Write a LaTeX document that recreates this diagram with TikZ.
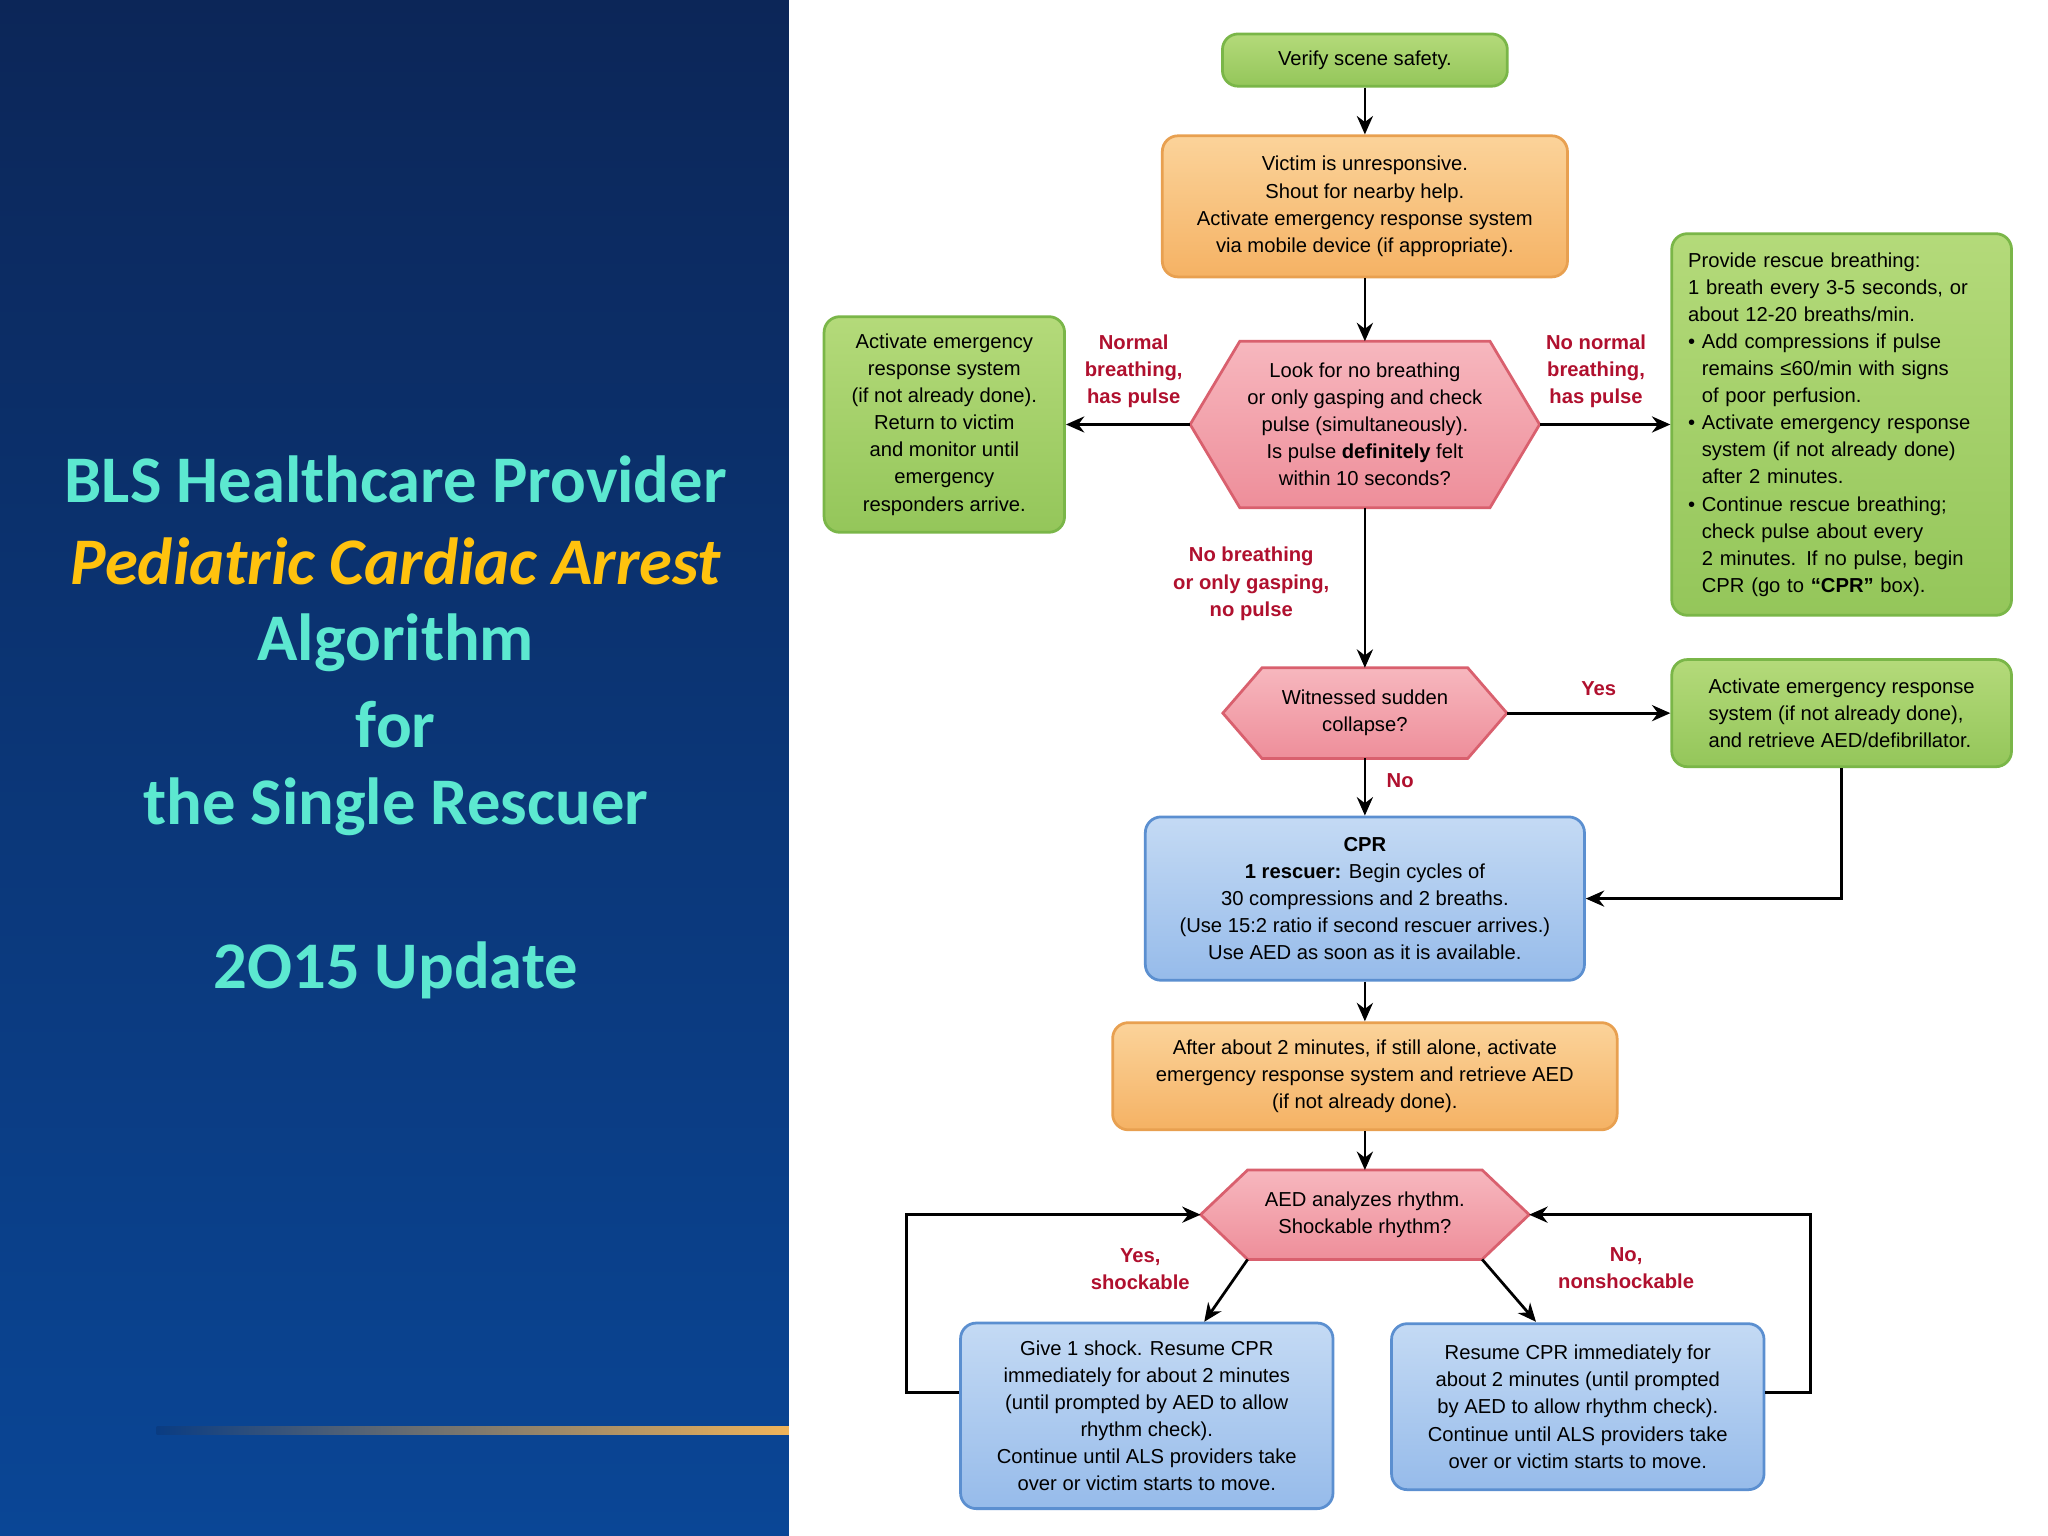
\documentclass[tikz,border=0pt]{standalone}
\usepackage{fontspec}
\setmainfont{Liberation Sans}
\newfontfamily\titlefont{Carlito}
\usetikzlibrary{arrows.meta,calc}
\definecolor{gfill}{HTML}{B4DA7A}\definecolor{gfill2}{HTML}{94C65A}\definecolor{gdraw}{HTML}{7AB648}
\definecolor{ofill}{HTML}{FBD39A}\definecolor{ofill2}{HTML}{F5B264}\definecolor{odraw}{HTML}{E8A050}
\definecolor{rfill}{HTML}{F7B7BE}\definecolor{rfill2}{HTML}{EE8E9A}\definecolor{rdraw}{HTML}{D9606E}
\definecolor{bfill}{HTML}{C4DAF4}\definecolor{bfill2}{HTML}{96BBEA}\definecolor{bdraw}{HTML}{5B8FD0}
\definecolor{lab}{HTML}{B0102E}\definecolor{ttl}{HTML}{5CE8D0}\definecolor{ttly}{HTML}{FFC20E}
\tikzset{
 box/.style={rounded corners=0.12cm,line width=0.6pt,font=\fontsize{4.4}{5.9}\selectfont,align=center,inner sep=1pt},
 gbox/.style={box,draw=gdraw,top color=gfill,bottom color=gfill2},
 obox/.style={box,draw=odraw,top color=ofill,bottom color=ofill2},
 bbox/.style={box,draw=bdraw,top color=bfill,bottom color=bfill2},
 hexfill/.style={draw=rdraw,line width=0.6pt,top color=rfill,bottom color=rfill2},
 htext/.style={font=\fontsize{4.4}{5.9}\selectfont,align=center,inner sep=0pt},
 lbl/.style={font=\fontsize{4.4}{5.9}\selectfont\bfseries,text=lab,align=center},
 arr/.style={-{Stealth[length=4pt,width=3.5pt]},line width=0.6pt},
 ttlt/.style={font=\titlefont\fontsize{14.5}{17}\selectfont\bfseries,text=ttl}
}
\newcommand{\hexdraw}[2]{% node, inset
 \draw[hexfill] (#1.west) -- ($(#1.north west)+(#2,0)$) -- ($(#1.north east)-(#2,0)$) -- (#1.east) -- ($(#1.south east)-(#2,0)$) -- ($(#1.south west)+(#2,0)$) -- cycle;}
\begin{document}
\begin{tikzpicture}[x=0.01cm,y=-0.01cm]
\useasboundingbox (0,0) rectangle (1568,1176);
\fill[white] (0,0) rectangle (1568,1176);
\shade[top color={rgb,255:red,12;green,38;blue,88}, bottom color={rgb,255:red,10;green,70;blue,150}] (0,0) rectangle (604,1176);
\shade[left color={rgb,255:red,10;green,60;blue,130}, right color={rgb,255:red,240;green,180;blue,90}] (120,1092) rectangle (604,1098);
\node[ttlt] (t1) at (303,367) {BLS Healthcare Provider};
\node[ttlt,text=ttly] (t2) at (303,430) {\itshape Pediatric Cardiac Arrest};
\node[ttlt] (t3) at (303,492) {Algorithm};
\node[ttlt] (t4) at (303,555) {for};
\node[ttlt] (t5) at (303,618) {the Single Rescuer};
\node[ttlt] (t6) at (303,743) {2O15 Update};

\node[gbox,minimum width=2.18cm,minimum height=0.40cm] (verify) at (1045,46) {Verify scene safety.};
\node[obox,minimum width=3.10cm,minimum height=1.08cm] (victim) at (1045,158) {Victim is unresponsive.\\Shout for nearby help.\\Activate emergency response system\\via mobile device (if appropriate).};
\node[htext,minimum width=2.66cm,minimum height=1.26cm] (look) at (1045,325) {};
\hexdraw{look}{0.38cm}
\node[htext] at (look) {Look for no breathing\\or only gasping and check\\pulse (simultaneously).\\Is pulse \textbf{definitely} felt\\within 10 seconds?};
\node[gbox,minimum width=1.84cm,minimum height=1.65cm] (left) at (723,325) {Activate emergency\\response system\\(if not already done).\\Return to victim\\and monitor until\\emergency\\responders arrive.};
\node[gbox,align=left,minimum width=2.60cm,minimum height=2.92cm,text width=2.35cm] (right) at (1410,325) {Provide rescue breathing:\\1 breath every 3-5 seconds, or\\about 12-20 breaths/min.\\• Add compressions if pulse\\\phantom{• }remains ≤60/min with signs\\\phantom{• }of poor perfusion.\\• Activate emergency response\\\phantom{• }system (if not already done)\\\phantom{• }after 2 minutes.\\• Continue rescue breathing;\\\phantom{• }check pulse about every\\\phantom{• }2 minutes. If no pulse, begin\\\phantom{• }CPR (go to \textbf{“CPR”} box).};
\node[htext,minimum width=2.16cm,minimum height=0.68cm] (wit) at (1045,546) {};
\hexdraw{wit}{0.3cm}
\node[htext] at (wit) {Witnessed sudden\\collapse?};
\node[gbox,align=left,minimum width=2.60cm,minimum height=0.82cm] (act) at (1410,546) {Activate emergency response\\system (if not already done),\\and retrieve AED/defibrillator.};
\node[bbox,minimum width=3.36cm,minimum height=1.25cm] (cpr) at (1045,688) {\textbf{CPR}\\\textbf{1 rescuer:} Begin cycles of\\30 compressions and 2 breaths.\\(Use 15:2 ratio if second rescuer arrives.)\\Use AED as soon as it is available.};
\node[obox,minimum width=3.86cm,minimum height=0.82cm] (after) at (1045,824) {After about 2 minutes, if still alone, activate\\emergency response system and retrieve AED\\(if not already done).};
\node[htext,minimum width=2.50cm,minimum height=0.67cm] (aed) at (1045,930) {};
\hexdraw{aed}{0.36cm}
\node[htext] at (aed) {AED analyzes rhythm.\\Shockable rhythm?};
\node[bbox,minimum width=2.85cm,minimum height=1.42cm] (shock) at (878,1084) {Give 1 shock. Resume CPR\\immediately for about 2 minutes\\(until prompted by AED to allow\\rhythm check).\\Continue until ALS providers take\\over or victim starts to move.};
\node[bbox,minimum width=2.85cm,minimum height=1.27cm] (resume) at (1208,1077) {Resume CPR immediately for\\about 2 minutes (until prompted\\by AED to allow rhythm check).\\Continue until ALS providers take\\over or victim starts to move.};

\draw[arr] (verify) -- (victim);
\draw[arr] (victim) -- (look);
\draw[arr] (look.west) -- (left.east);
\draw[arr] (look.east) -- (right.west);
\draw[arr] (look) -- (wit);
\draw[arr] (wit.east) -- (act.west);
\draw[arr] (wit) -- (cpr);
\draw[arr] (act.south) |- (cpr.east);
\draw[arr] (cpr) -- (after);
\draw[arr] (after) -- (aed);
\draw[arr] ($(aed.south west)+(0.36cm,0)$) -- (922,1012);
\draw[arr] ($(aed.south east)-(0.36cm,0)$) -- (1176,1012);
\coordinate (ls) at ($(shock.west)+(0,-18)$); \coordinate (rs) at ($(resume.east)+(0,-11)$);
\coordinate (lc) at (694,930); \coordinate (rc) at (1386,930);
\draw[arr] (ls) -| (lc) -- (aed.west);
\draw[arr] (rs) -| (rc) -- (aed.east);

\node[lbl] (l1) at (868,284) {Normal\\breathing,\\has pulse};
\node[lbl] (l2) at (1222,284) {No normal\\breathing,\\has pulse};
\node[lbl] (l3) at (958,447) {No breathing\\or only gasping,\\no pulse};
\node[lbl] (l4) at (1224,527) {Yes};
\node[lbl] (l5) at (1072,598) {No};
\node[lbl] (l6) at (873,972) {Yes,\\shockable};
\node[lbl] (l7) at (1245,971) {No,\\nonshockable};
\end{tikzpicture}
\end{document}
